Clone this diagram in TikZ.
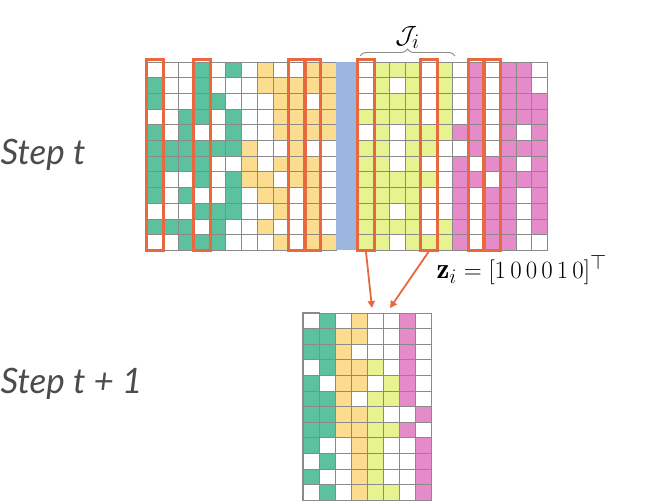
\documentclass[tikz,border=0pt]{standalone}
\usepackage{fontspec}
\usepackage{amsmath}
\usetikzlibrary{decorations.pathreplacing,arrows.meta}
\newfontfamily\stepfont{Lato}
\definecolor{W}{HTML}{FFFFFF}
\definecolor{G}{HTML}{5CC19F}
\definecolor{Y}{HTML}{FCDC8E}
\definecolor{L}{HTML}{E7F38F}
\definecolor{P}{HTML}{E68BC9}
\definecolor{blu}{HTML}{9CB6E0}
\definecolor{org}{HTML}{E8683F}
\definecolor{gridc}{HTML}{8A8A8A}
\begin{document}
\begin{tikzpicture}[x=1pt,y=-1pt,
  cell/.style={draw=gridc,line width=0.8pt},
  selbox/.style={draw=org,line width=3pt},
  conn/.style={draw=org,line width=1.8pt,-{Triangle[length=7pt,width=7pt]}},
  steplbl/.style={font=\stepfont\itshape\fontsize{35}{40}\selectfont,text=black!70,anchor=west}]
\useasboundingbox (0,0) rectangle (658,502);
% left grid
\foreach \row [count=\r] in {
{W,W,W,G,W,G,W,Y,W,W,Y,Y},
{G,W,W,G,W,W,W,Y,Y,Y,Y,Y},
{G,W,W,G,G,W,W,W,Y,Y,W,Y},
{W,W,G,G,W,G,W,W,Y,Y,Y,Y},
{G,W,G,W,W,G,W,W,Y,Y,Y,Y},
{G,G,G,G,G,G,Y,W,W,Y,W,W},
{G,G,G,G,W,W,Y,W,Y,Y,Y,W},
{G,W,W,G,W,G,Y,Y,W,Y,Y,W},
{G,W,G,W,W,G,W,Y,Y,W,Y,W},
{W,W,W,G,G,G,W,W,Y,W,Y,W},
{G,G,G,W,G,W,W,Y,W,W,Y,W},
{W,W,G,G,G,W,W,W,Y,W,Y,Y}}
{\foreach \c [count=\k] in \row
  {\draw[cell,fill=\c] ({147+(\k-1)*15.75},{62+(\r-1)*15.7}) rectangle ++(15.75,15.7);}}
\fill[blu] (336,62) rectangle (358,250.4);
% right grid
\foreach \row [count=\r] in {
{W,L,L,L,W,L,W,P,W,P,P,W},
{W,L,W,L,W,L,W,P,W,P,P,W},
{W,L,L,L,W,L,W,P,W,P,P,P},
{L,L,L,L,W,L,W,P,W,P,P,P},
{W,L,W,L,L,L,P,P,W,P,W,P},
{L,L,W,L,L,W,W,P,W,P,P,P},
{L,L,W,L,W,W,P,W,P,P,W,P},
{L,L,L,L,L,W,P,P,W,P,P,P},
{L,L,L,L,W,W,P,W,P,P,W,P},
{L,L,W,L,W,W,P,W,P,P,W,P},
{L,L,L,L,W,L,P,W,P,P,W,P},
{L,L,W,L,L,L,P,W,P,P,W,W}}
{\foreach \c [count=\k] in \row
  {\draw[cell,fill=\c] ({358+(\k-1)*15.8},{62+(\r-1)*15.7}) rectangle ++(15.8,15.7);}}
% selection boxes
\foreach \xx/\nm in {147/b1,194.25/b2,288.75/b3,304.5/b4,358/b5,421.2/b6,468.6/b7,484.4/b8}
  {\draw[selbox] (\xx-0.5,60) rectangle (\xx+16.3,251);
   \coordinate (\nm) at (\xx+7.9,251);}
% bottom grid
\foreach \row [count=\r] in {
{W,G,W,Y,W,W,P,W},
{G,G,Y,Y,W,W,P,W},
{G,G,Y,W,W,W,P,W},
{W,G,Y,Y,L,W,P,W},
{G,W,Y,Y,W,L,P,W},
{G,G,Y,W,L,L,P,W},
{G,G,Y,Y,L,W,W,P},
{G,G,Y,Y,L,L,P,W},
{G,W,W,Y,L,W,W,P},
{W,G,W,Y,L,W,W,P},
{G,W,W,Y,L,W,W,P},
{W,G,W,Y,L,L,W,P}}
{\foreach \c [count=\k] in \row
  {\draw[cell,fill=\c] ({303+(\k-1)*16.1},{313+(\r-1)*15.6}) rectangle ++(16.1,15.6);}}
\draw[gridc,line width=1.2pt] (303,313) rectangle (319.1,500.2);
\coordinate (t1) at (372,308);
\coordinate (t2) at (390,308);
\draw[conn] (b5) -- (t1);
\draw[conn] (b6) -- (t2);
% brace
\draw[gridc,line width=0.9pt,decorate,decoration={brace,amplitude=7pt}] (360,56) -- (455,56)
  node[midway,above=4pt,text=black,font=\fontsize{32}{36}\selectfont] (J) {$\mathcal{J}_i$};
\node[steplbl] (s1) at (-3,155) {Step \textit{t}};
\node[steplbl] (s2) at (-3,384) {Step \textit{t} + 1};
\node[anchor=west,font=\fontsize{29}{32}\selectfont] (z) at (433,270) {$\mathbf{z}_i = [1\,0\,0\,0\,1\,0]^{\top}$};
\end{tikzpicture}
\end{document}
